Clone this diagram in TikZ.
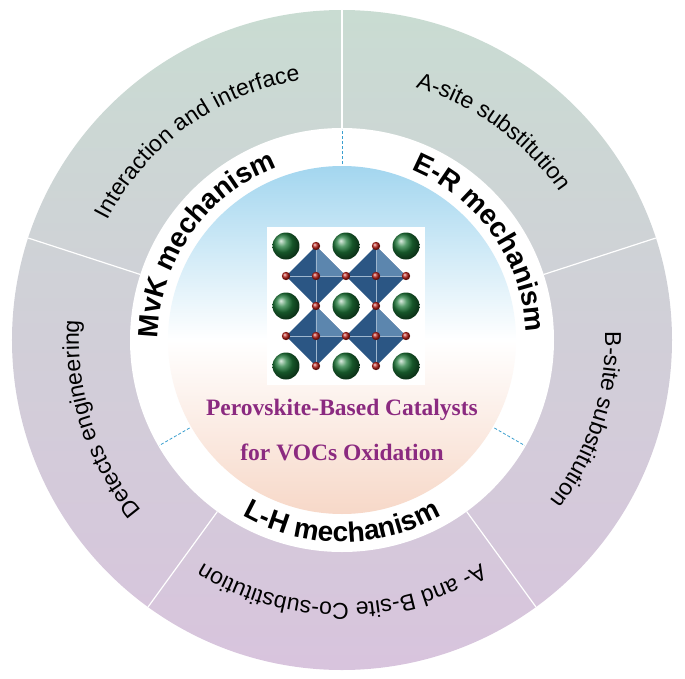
\documentclass[tikz,border=0pt]{standalone}
\usepackage{fontspec}
\setmainfont{Liberation Sans}
\newfontfamily\titlefont{Liberation Serif}
\usetikzlibrary{decorations.text}
\definecolor{ringtop}{HTML}{C9DCD2}
\definecolor{ringbot}{HTML}{D8C4DD}
\definecolor{disctop}{HTML}{A3D6EF}
\definecolor{discbot}{HTML}{F7D8C8}
\definecolor{octa}{HTML}{2B5684}
\definecolor{octalight}{HTML}{5C86AE}
\definecolor{atomA}{HTML}{1F7A3A}
\definecolor{atomO}{HTML}{B8231C}
\definecolor{titlepurple}{HTML}{8B2A80}
\definecolor{dashblue}{HTML}{3A9FCF}
\newcommand\outerfont{\fontsize{23}{23}\selectfont}
\newcommand\innerfont{\bfseries\fontsize{28}{28}\selectfont}
\tikzset{
  arclabel/.style={decorate,decoration={text along path,text align=center,text={#1}}},
  divider/.style={white,line width=1.2pt},
  ringdash/.style={dashblue,line width=0.8pt,dash pattern=on 3pt off 2pt},
  title/.style={text=titlepurple,font=\titlefont\bfseries\fontsize{23.5}{26}\selectfont},
}
\begin{document}
\begin{tikzpicture}[x=1pt,y=1pt]
  \useasboundingbox (-342,-338) rectangle (343,340);

  % Draw outer ring
  \coordinate (O) at (0,0);
  \shade[top color=ringtop,bottom color=ringbot,middle color=ringtop!45!ringbot] (O) circle[radius=330];
  \fill[white] (O) circle[radius=212];

  % Draw dividers of outer ring
  \foreach \a in {90,18,-54,-126,162}
    \draw[divider] (\a:212) -- (\a:330);

  % Draw inner disc
  \shade[top color=disctop,bottom color=discbot,middle color=white] (O) circle[radius=174];

  % Draw dashes of white ring
  \foreach \a in {90,210,330}
    \draw[ringdash] (\a:176) -- (\a:211);

  % Draw outer labels
  \begingroup\outerfont
  \path[arclabel={Interaction and interface}] (162:263) arc[start angle=162,end angle=90,radius=263];
  \path[arclabel={A-site substitution}] (90:263) arc[start angle=90,end angle=18,radius=263];
  \path[arclabel={B-site substitution}] (18:263) arc[start angle=18,end angle=-54,radius=263];
  \path[arclabel={A- and B-site Co-substitution}] (-54:263) arc[start angle=-54,end angle=-126,radius=263];
  \path[arclabel={Detects engineering}] (234:263) arc[start angle=234,end angle=162,radius=263];
  \endgroup

  % Draw mechanism labels
  \begingroup\innerfont
  \path[arclabel={MvK mechanism}] (205:184) arc[start angle=205,end angle=85,radius=184];
  \path[arclabel={E-R mechanism}] (95:184) arc[start angle=95,end angle=-25,radius=184];
  \path[arclabel={L-H mechanism}] (-150:202) arc[start angle=-150,end angle=-30,radius=202];
  \endgroup

  % Draw perovskite cell
  \coordinate (P) at (4,34);
  \fill[white] ([shift={(-79,-79)}]P) rectangle ([shift={(79,79)}]P);
  \foreach \i in {-1,1} \foreach \j in {-1,1} {
    \coordinate (C) at ([shift={(30*\i,30*\j)}]P);
    \fill[octa] ([shift={(-30,0)}]C) -- ([shift={(0,30)}]C) -- ([shift={(30,0)}]C) -- ([shift={(0,-30)}]C) -- cycle;
    \fill[octalight] (C) -- ([shift={(0,30)}]C) -- ([shift={(30,0)}]C) -- cycle;
    \draw[octalight!60!white,line width=0.4pt] ([shift={(-30,0)}]C) -- ([shift={(30,0)}]C) ([shift={(0,-30)}]C) -- ([shift={(0,30)}]C);
  }
  \foreach \i in {-1,0,1} \foreach \j in {-1,0,1}
    \shade[ball color=atomA] ([shift={(60*\i,60*\j)}]P) circle[radius=13.5];
  \foreach \i/\j in {-1/0,1/0,0/-1,0/1,-2/1,-2/-1,2/1,2/-1,1/2,-1/2,1/-2,-1/-2,-1/-1,-1/1,1/-1,1/1}
    \shade[ball color=atomO] ([shift={(30*\i,30*\j)}]P) circle[radius=4.2];

  % Draw title
  \node[title] (T1) at (0,-70) {Perovskite-Based Catalysts};
  \node[title] (T2) at (0,-112) {for VOCs Oxidation};

\end{tikzpicture}
\end{document}
